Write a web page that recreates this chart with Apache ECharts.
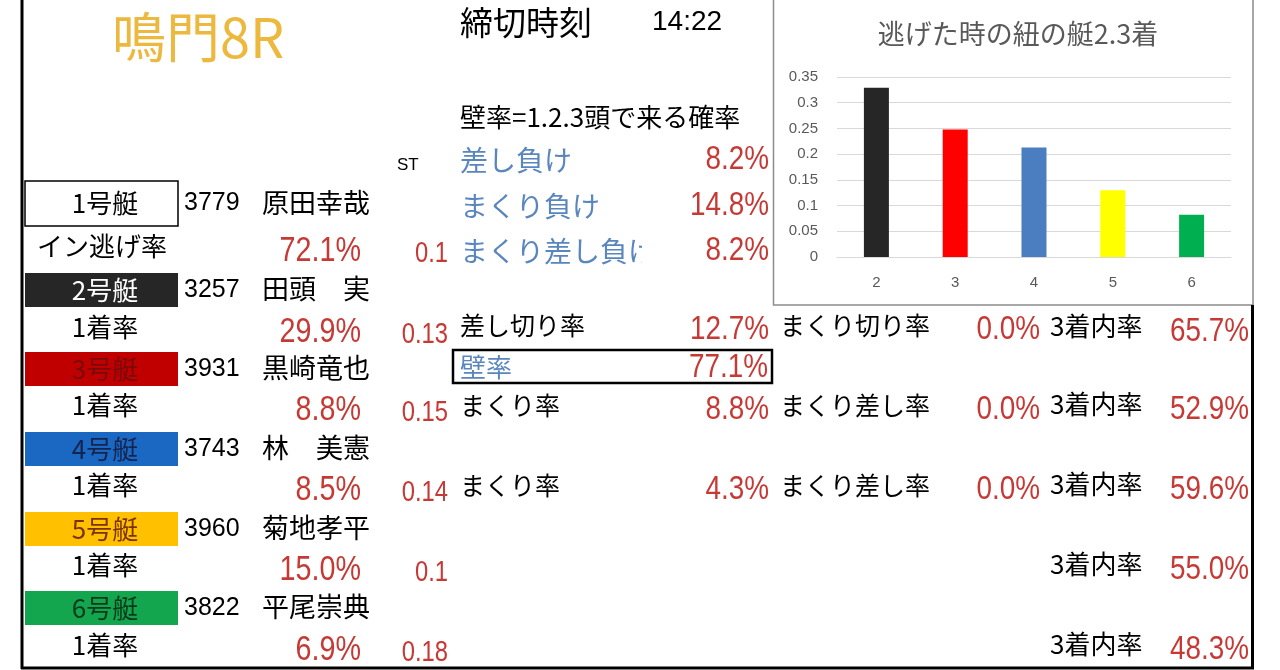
<!DOCTYPE html>
<html>
<head>
<meta charset="utf-8">
<script src="https://cdn.jsdelivr.net/npm/echarts@6/dist/echarts.min.js"></script>
<style>html,body{margin:0;padding:0;background:#fff;}#c{width:1280px;height:670px;}</style>
</head>
<body>
<div id="c"></div>
<script>
// ---- chart data ----
const categories = ['2', '3', '4', '5', '6'];
const values = [0.329, 0.248, 0.213, 0.130, 0.082];
const yTicks = [0, 0.05, 0.1, 0.15, 0.2, 0.25, 0.3, 0.35];
const chartTitle = '逃げた時の紐の艇2.3着';

// ---- table data ----
const raceTitle = '鳴門8R';
const deadlineLabel = '締切時刻';
const deadlineTime = '14:22';
const wallNote = '壁率=1.2.3頭で来る確率';
const boatLabels = ['1号艇', '2号艇', '3号艇', '4号艇', '5号艇', '6号艇'];
const racerIds = ['3779', '3257', '3931', '3743', '3960', '3822'];
const racerNames = ['原田幸哉', '田頭　実', '黒崎竜也', '林　美憲', '菊地孝平', '平尾崇典'];
const rateLabels = ['イン逃げ率', '1着率', '1着率', '1着率', '1着率', '1着率'];
const winRates = ['72.1%', '29.9%', '8.8%', '8.5%', '15.0%', '6.9%'];
const stTimes = ['0.1', '0.13', '0.15', '0.14', '0.1', '0.18'];
const loseLabels = ['差し負け', 'まくり負け', 'まくり差し負け'];
const loseRates = ['8.2%', '14.8%', '8.2%'];
const wallLabel = '壁率';
const wallRate = '77.1%';
const attackLabels = ['差し切り率', 'まくり率', 'まくり率'];
const attackRates = ['12.7%', '8.8%', '4.3%'];
const attack2Labels = ['まくり切り率', 'まくり差し率', 'まくり差し率'];
const attack2Rates = ['0.0%', '0.0%', '0.0%'];
const top3Label = '3着内率';
const top3Rates = ['65.7%', '52.9%', '59.6%', '55.0%', '48.3%'];

// ---- styles ----
const JP = "'Noto Sans CJK JP', 'Noto Sans', sans-serif";
const LAT = "'Liberation Sans', Arial, sans-serif";
const RED = '#C63A36';
const BLUE = '#5A86BE';
const barColors = ['#262626', '#FF0000', '#4A7EC0', '#FFFF00', '#00B050'];
const boxFill = ['#FFFFFF', '#262626', '#C00000', '#1A68C2', '#FFC000', '#14A64E'];
const boxText = ['#000000', '#FFFFFF', '#7A0A0A', '#15244F', '#7A3308', '#0B3A1B'];
const boxTop = [181, 273, 352, 432, 512, 591];
const boxH = [45, 34, 34, 34, 34, 34];
const rateY = [246, 327, 405, 485, 565, 645];
const NARROW = 0.82;

function txt(text, x, y, size, fill, family, align, z, sx) {
  const el = {
    type: 'text', x: x, y: y, z: z || 10,
    style: {
      text: text, fontSize: size, fontFamily: family || JP, fill: fill || '#000',
      align: align || 'left', textAlign: align || 'left',
      verticalAlign: 'middle', textVerticalAlign: 'middle'
    }
  };
  if (sx) { el.scaleX = sx; el.originX = 0; el.originY = 0; }
  return el;
}
function num(text, x, y, size, z) {
  return txt(text, x, y, size, RED, LAT, 'right', z, NARROW);
}

const g = [];
// frame lines
g.push({ type: 'line', z: 20, shape: { x1: 22, y1: 0, x2: 22, y2: 669 }, style: { stroke: '#000', lineWidth: 3 } });
g.push({ type: 'line', z: 20, shape: { x1: 21, y1: 668, x2: 1254, y2: 668 }, style: { stroke: '#000', lineWidth: 3 } });
g.push({ type: 'line', z: 20, shape: { x1: 1252.5, y1: 305, x2: 1252.5, y2: 669 }, style: { stroke: '#000', lineWidth: 3 } });
// chart box
g.push({ type: 'rect', z: 1, shape: { x: 773.5, y: -2, width: 479.5, height: 307 }, style: { fill: 'none', stroke: '#8C8C8C', lineWidth: 1.5 } });

// headings
g.push(txt(raceTitle, 112, 37, 54, '#EDB83E'));
g.push(txt(deadlineLabel, 460, 22, 33, '#000'));
g.push(txt(deadlineTime, 652, 22, 28, '#000', LAT));
g.push(txt(wallNote, 460, 117, 26, '#000'));
g.push(txt('ST', 397, 165, 17, '#000', LAT));

// boats
for (let i = 0; i < 6; i++) {
  g.push({ type: 'rect', z: 5, shape: { x: 25, y: boxTop[i], width: 153, height: boxH[i] },
    style: { fill: boxFill[i], stroke: i === 0 ? '#000' : boxFill[i], lineWidth: i === 0 ? 1.5 : 0 } });
  const cy = boxTop[i] + boxH[i] / 2;
  g.push(txt(boatLabels[i], 105, cy, 26, boxText[i], JP, 'center'));
  g.push(txt(racerIds[i], 184, cy, 25, '#000', LAT));
  g.push(txt(racerNames[i], 262, cy - 1, 27, '#000'));
  g.push(txt(rateLabels[i], i === 0 ? 102 : 105, rateY[i], 26, '#000', JP, 'center'));
  g.push(num(winRates[i], 361, rateY[i] + 5, 35));
  g.push(num(stTimes[i], 448, rateY[i] + 8, 29));
}

// lose rows
const loseY = [160, 206, 251];
for (let i = 0; i < 3; i++) {
  g.push(txt(loseLabels[i], 460, loseY[i], 28, BLUE));
  g.push(num(loseRates[i], 769, loseY[i], 34, 14));
}
// clip of last label
g.push({ type: 'rect', z: 12, shape: { x: 642, y: 232, width: 60, height: 40 }, style: { fill: '#fff' } });

// wall
g.push({ type: 'rect', z: 5, shape: { x: 453, y: 350, width: 319, height: 33 }, style: { fill: 'none', stroke: '#000', lineWidth: 2.5 } });
g.push(txt(wallLabel, 460, 367, 26, BLUE));
g.push(num(wallRate, 768, 368, 34));

// attack rows (boats 2-4)
const attY = [325, 405, 485];
for (let i = 0; i < 3; i++) {
  g.push(txt(attackLabels[i], 460, attY[i], 25, '#000'));
  g.push(num(attackRates[i], 769, attY[i] + 5, 34));
  g.push(txt(attack2Labels[i], 780, attY[i], 25, '#000'));
  g.push(num(attack2Rates[i], 1040, attY[i] + 5, 34));
}
// top3
for (let i = 0; i < 5; i++) {
  g.push(txt(top3Label, 1050, rateY[i + 1] - 1, 26, '#000'));
  g.push(num(top3Rates[i], 1249, rateY[i + 1] + 5, 34));
}

const chart = echarts.init(document.getElementById('c'));
chart.setOption({
  animation: false,
  backgroundColor: '#fff',
  title: {
    text: chartTitle, left: 1013, top: 15, textAlign: 'center',
    textStyle: { fontFamily: JP, fontSize: 27, fontWeight: 'normal', color: '#595959' }
  },
  grid: { left: 837, top: 77, width: 394, height: 180, containLabel: false },
  xAxis: {
    type: 'category', data: categories,
    axisLine: { show: true, lineStyle: { color: '#D9D9D9', width: 1 } },
    axisTick: { show: false },
    axisLabel: { color: '#595959', fontSize: 15, margin: 18, fontFamily: LAT }
  },
  yAxis: {
    type: 'value', min: yTicks[0], max: yTicks[yTicks.length - 1], interval: yTicks[1] - yTicks[0],
    axisLine: { show: false }, axisTick: { show: false },
    splitLine: { lineStyle: { color: '#D9D9D9', width: 1 } },
    axisLabel: { color: '#595959', fontSize: 15, margin: 19, fontFamily: LAT,
      formatter: function (v) { return String(+v.toFixed(2)); } }
  },
  series: [{
    type: 'bar', data: values.map(function (v, i) { return { value: v, itemStyle: { color: barColors[i] } }; }),
    barWidth: 25
  }],
  graphic: { elements: g }
});
</script>
</body>
</html>
